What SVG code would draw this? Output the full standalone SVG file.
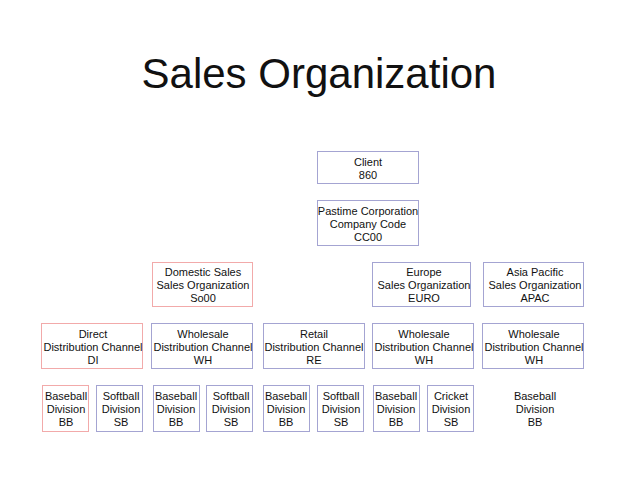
<svg xmlns="http://www.w3.org/2000/svg" width="638" height="478" viewBox="0 0 638 478">
<style>
.b{fill:#fff;stroke:#a4a4d2;stroke-width:1}
.r{fill:#fff;stroke:#f2aaaa;stroke-width:1}
text{font-family:"Liberation Sans",Arial,sans-serif;fill:#111}
.t{font-size:11px;text-anchor:middle}
.h{font-size:42px;text-anchor:middle}
</style>
<rect width="638" height="478" fill="#fff"/>
<text class="h" x="319" y="88">Sales Organization</text>
<g id="connectors"/>
<g id="client"><rect class="b" x="317.5" y="151.5" width="101" height="32"/><text class="t" x="368" y="166">Client</text><text class="t" x="368" y="178.5">860</text></g>
<g id="pastime"><rect class="b" x="317.5" y="200.5" width="101" height="45"/><text class="t" x="368" y="215">Pastime Corporation</text><text class="t" x="368" y="228">Company Code</text><text class="t" x="368" y="241">CC00</text></g>
<g id="domestic"><rect class="r" x="152.5" y="262.5" width="100" height="44"/><text class="t" x="203" y="276">Domestic Sales</text><text class="t" x="203" y="289">Sales Organization</text><text class="t" x="203" y="302">So00</text></g>
<g id="europe"><rect class="b" x="372.5" y="262.5" width="98" height="44"/><text class="t" x="424" y="276">Europe</text><text class="t" x="424" y="289">Sales Organization</text><text class="t" x="424" y="302">EURO</text></g>
<g id="apac"><rect class="b" x="483.5" y="262.5" width="100" height="44"/><text class="t" x="535" y="276">Asia Pacific</text><text class="t" x="535" y="289">Sales Organization</text><text class="t" x="535" y="302">APAC</text></g>
<g id="dc-di"><rect class="r" x="41.5" y="323.5" width="101" height="45"/><text class="t" x="93" y="338">Direct</text><text class="t" x="93" y="351">Distribution Channel</text><text class="t" x="93" y="364">DI</text></g>
<g id="dc-wh1"><rect class="b" x="151.5" y="323.5" width="101" height="45"/><text class="t" x="203" y="338">Wholesale</text><text class="t" x="203" y="351">Distribution Channel</text><text class="t" x="203" y="364">WH</text></g>
<g id="dc-re"><rect class="b" x="263.5" y="323.5" width="101" height="45"/><text class="t" x="314" y="338">Retail</text><text class="t" x="314" y="351">Distribution Channel</text><text class="t" x="314" y="364">RE</text></g>
<g id="dc-wh2"><rect class="b" x="372.5" y="323.5" width="101" height="45"/><text class="t" x="424" y="338">Wholesale</text><text class="t" x="424" y="351">Distribution Channel</text><text class="t" x="424" y="364">WH</text></g>
<g id="dc-wh3"><rect class="b" x="482.5" y="323.5" width="101" height="45"/><text class="t" x="534" y="338">Wholesale</text><text class="t" x="534" y="351">Distribution Channel</text><text class="t" x="534" y="364">WH</text></g>
<g id="div1"><rect class="r" x="42.5" y="385.5" width="46" height="46"/><text class="t" x="66" y="400">Baseball</text><text class="t" x="66" y="413">Division</text><text class="t" x="66" y="426">BB</text></g>
<g id="div2"><rect class="b" x="96.5" y="385.5" width="46" height="46"/><text class="t" x="121" y="400">Softball</text><text class="t" x="121" y="413">Division</text><text class="t" x="121" y="426">SB</text></g>
<g id="div3"><rect class="b" x="153.5" y="385.5" width="46" height="46"/><text class="t" x="176" y="400">Baseball</text><text class="t" x="176" y="413">Division</text><text class="t" x="176" y="426">BB</text></g>
<g id="div4"><rect class="b" x="206.5" y="385.5" width="46" height="46"/><text class="t" x="231" y="400">Softball</text><text class="t" x="231" y="413">Division</text><text class="t" x="231" y="426">SB</text></g>
<g id="div5"><rect class="b" x="263.5" y="385.5" width="46" height="46"/><text class="t" x="286" y="400">Baseball</text><text class="t" x="286" y="413">Division</text><text class="t" x="286" y="426">BB</text></g>
<g id="div6"><rect class="b" x="317.5" y="385.5" width="46" height="46"/><text class="t" x="341" y="400">Softball</text><text class="t" x="341" y="413">Division</text><text class="t" x="341" y="426">SB</text></g>
<g id="div7"><rect class="b" x="373.5" y="385.5" width="46" height="46"/><text class="t" x="396" y="400">Baseball</text><text class="t" x="396" y="413">Division</text><text class="t" x="396" y="426">BB</text></g>
<g id="div8"><rect class="b" x="427.5" y="385.5" width="46" height="46"/><text class="t" x="451" y="400">Cricket</text><text class="t" x="451" y="413">Division</text><text class="t" x="451" y="426">SB</text></g>
<g id="div9"><text class="t" x="535" y="400">Baseball</text><text class="t" x="535" y="413">Division</text><text class="t" x="535" y="426">BB</text></g>
</svg>
